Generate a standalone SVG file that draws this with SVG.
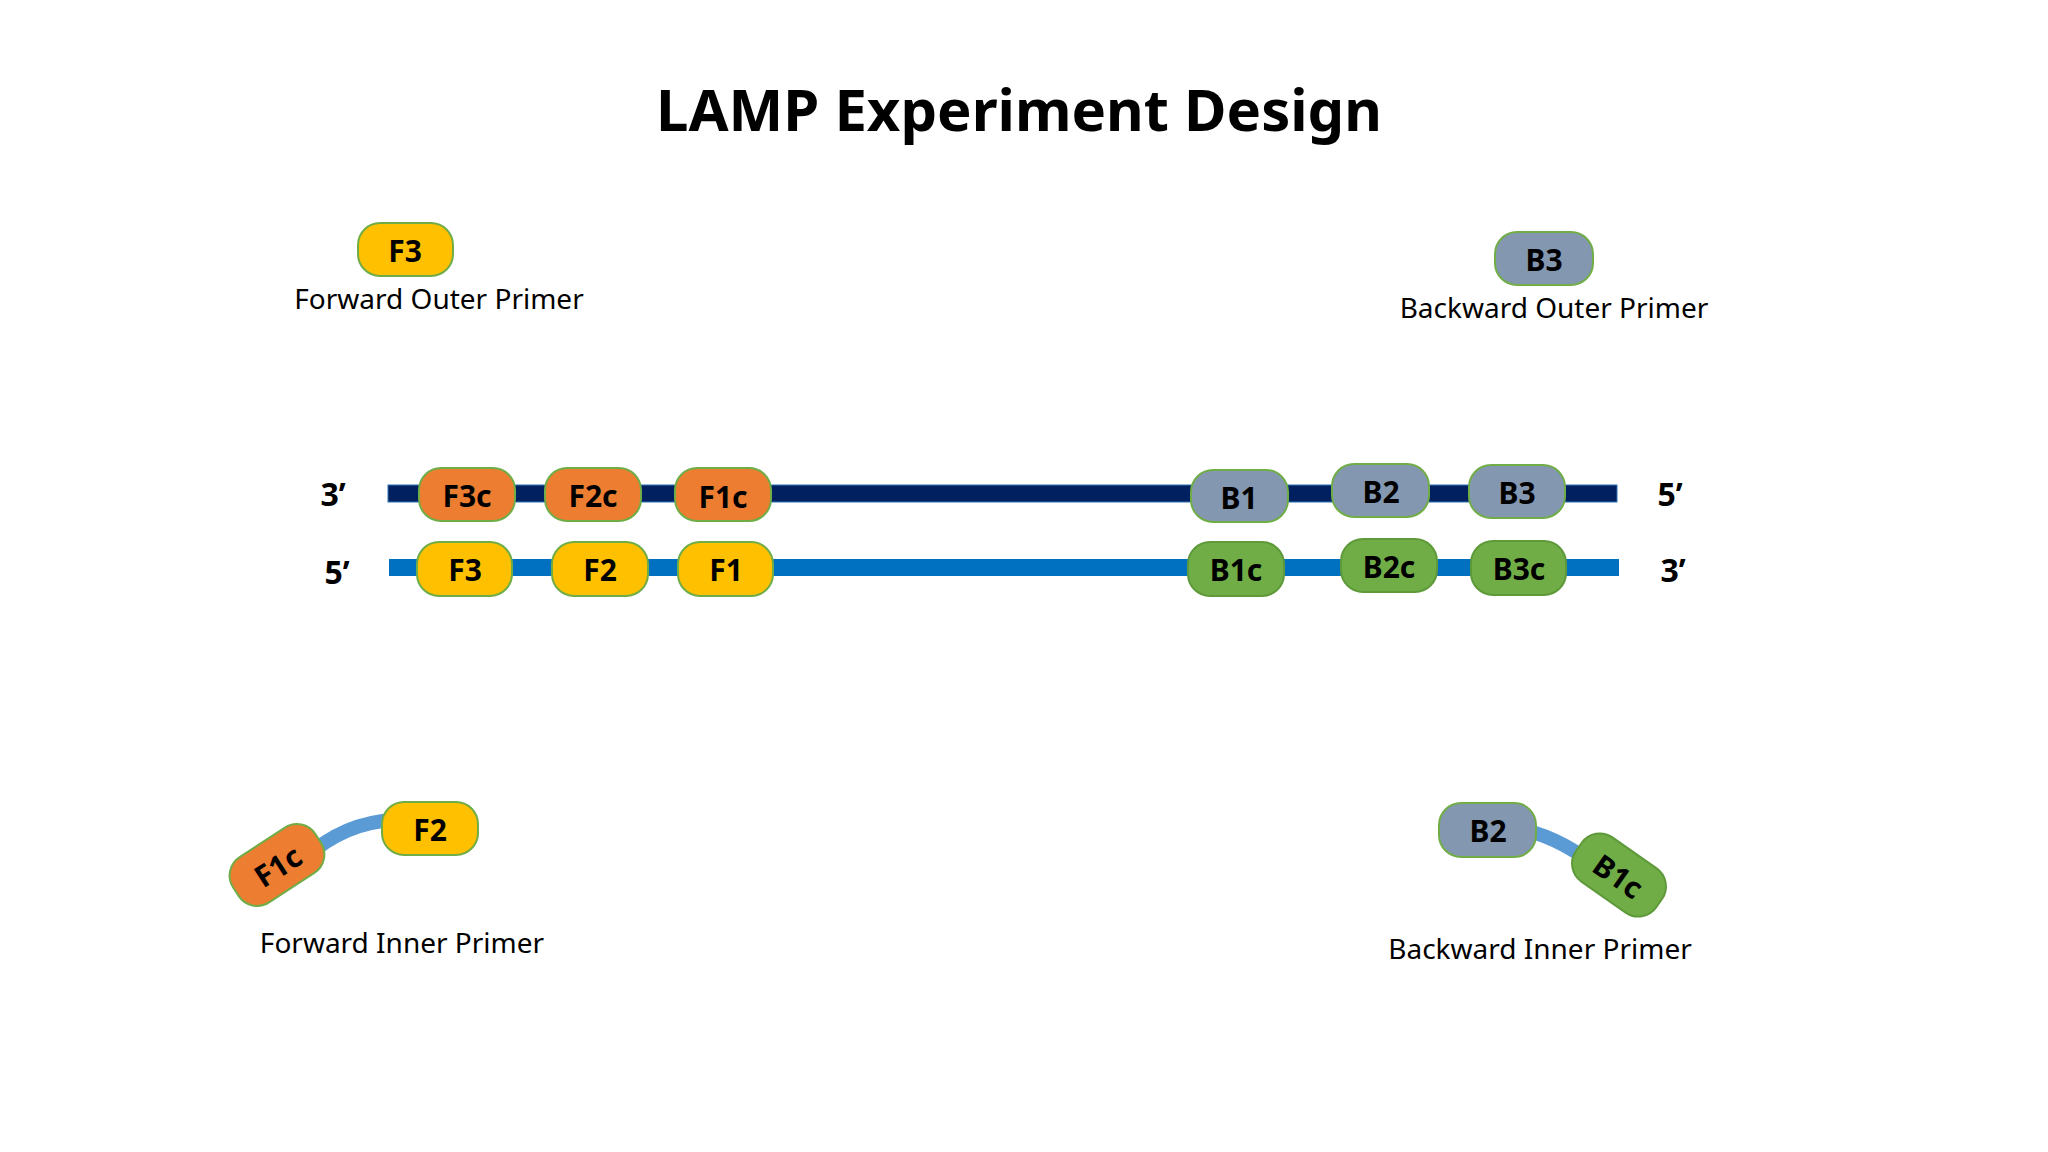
<svg xmlns="http://www.w3.org/2000/svg" width="2048" height="1152" viewBox="0 0 2048 1152">
<style>
text{font-family:"Noto Sans","Liberation Sans",sans-serif;fill:#000}
.t{font-size:58px;font-weight:bold;text-anchor:middle}
.l{font-size:28px;text-anchor:middle}
.b{font-size:30px;font-weight:bold;text-anchor:middle;dominant-baseline:central}
.p{font-size:32px;font-weight:bold;text-anchor:middle;dominant-baseline:central}
.o{fill:#ED7D31;stroke:#70AD47;stroke-width:2}
.y{fill:#FFC000;stroke:#70AD47;stroke-width:2}
.g{fill:#8497B0;stroke:#70AD47;stroke-width:2}
.n{fill:#70AD47;stroke:#5E9A3A;stroke-width:2}
</style>
<rect width="2048" height="1152" fill="#fff"/>
<text class="t" x="1019" y="131">LAMP Experiment Design</text>
<g id="F3top"><rect class="y" x="358" y="223" width="95" height="53" rx="22"/><text class="b" x="405" y="250">F3</text></g>
<text class="l" x="439" y="309">Forward Outer Primer</text>
<g id="B3top"><rect class="g" x="1495" y="232" width="98" height="53" rx="22"/><text class="b" x="1544" y="259">B3</text></g>
<text class="l" x="1554" y="318">Backward Outer Primer</text>
<g id="connectors">
<rect x="388" y="485" width="1229" height="17" fill="#002060" stroke="#2E75B6" stroke-width="1"/>
<rect x="389" y="559" width="1230" height="17" fill="#0070C0"/>
<path d="M305 858 Q345 822 395 820" fill="none" stroke="#5B9BD5" stroke-width="14"/>
<path d="M1525 830 Q1565 840 1600 870" fill="none" stroke="#5B9BD5" stroke-width="14"/>
</g>
<text class="p" x="333" y="493">3’</text>
<text class="p" x="337" y="571">5’</text>
<text class="p" x="1670" y="493">5’</text>
<text class="p" x="1673" y="569">3’</text>
<g id="F3c"><rect class="o" x="419" y="468" width="96" height="53" rx="22"/><text class="b" x="467" y="495">F3c</text></g>
<g id="F2c"><rect class="o" x="545" y="468" width="96" height="53" rx="22"/><text class="b" x="593" y="495">F2c</text></g>
<g id="F1c"><rect class="o" x="675" y="468" width="96" height="53" rx="22"/><text class="b" x="723" y="496">F1c</text></g>
<g id="B1"><rect class="g" x="1191" y="470" width="97" height="52" rx="22"/><text class="b" x="1239" y="497">B1</text></g>
<g id="B2"><rect class="g" x="1332" y="464" width="97" height="53" rx="22"/><text class="b" x="1381" y="491">B2</text></g>
<g id="B3"><rect class="g" x="1469" y="465" width="96" height="53" rx="22"/><text class="b" x="1517" y="492">B3</text></g>
<g id="F3"><rect class="y" x="417" y="542" width="95" height="54" rx="22"/><text class="b" x="465" y="569">F3</text></g>
<g id="F2"><rect class="y" x="552" y="542" width="96" height="54" rx="22"/><text class="b" x="600" y="569">F2</text></g>
<g id="F1"><rect class="y" x="678" y="542" width="95" height="54" rx="22"/><text class="b" x="726" y="569">F1</text></g>
<g id="B1c"><rect class="n" x="1188" y="542" width="96" height="54" rx="22"/><text class="b" x="1236" y="569">B1c</text></g>
<g id="B2c"><rect class="n" x="1341" y="539" width="96" height="53" rx="22"/><text class="b" x="1389" y="566">B2c</text></g>
<g id="B3c"><rect class="n" x="1471" y="541" width="95" height="54" rx="22"/><text class="b" x="1519" y="568">B3c</text></g>
<g id="FIP-F1c" transform="translate(277 865) rotate(-33)"><rect class="o" x="-49" y="-27" width="98" height="54" rx="22"/><text class="b" x="0" y="1">F1c</text></g>
<g id="FIP-F2"><rect class="y" x="382" y="802" width="96" height="53" rx="22"/><text class="b" x="430" y="829">F2</text></g>
<text class="l" x="402" y="953">Forward Inner Primer</text>
<g id="BIP-B2"><rect class="g" x="1439" y="803" width="97" height="54" rx="22"/><text class="b" x="1488" y="830">B2</text></g>
<g id="BIP-B1c" transform="translate(1619 875) rotate(35)"><rect class="n" x="-49" y="-27" width="98" height="54" rx="22"/><text class="b" x="0" y="1">B1c</text></g>
<text class="l" x="1540" y="959">Backward Inner Primer</text>
</svg>
